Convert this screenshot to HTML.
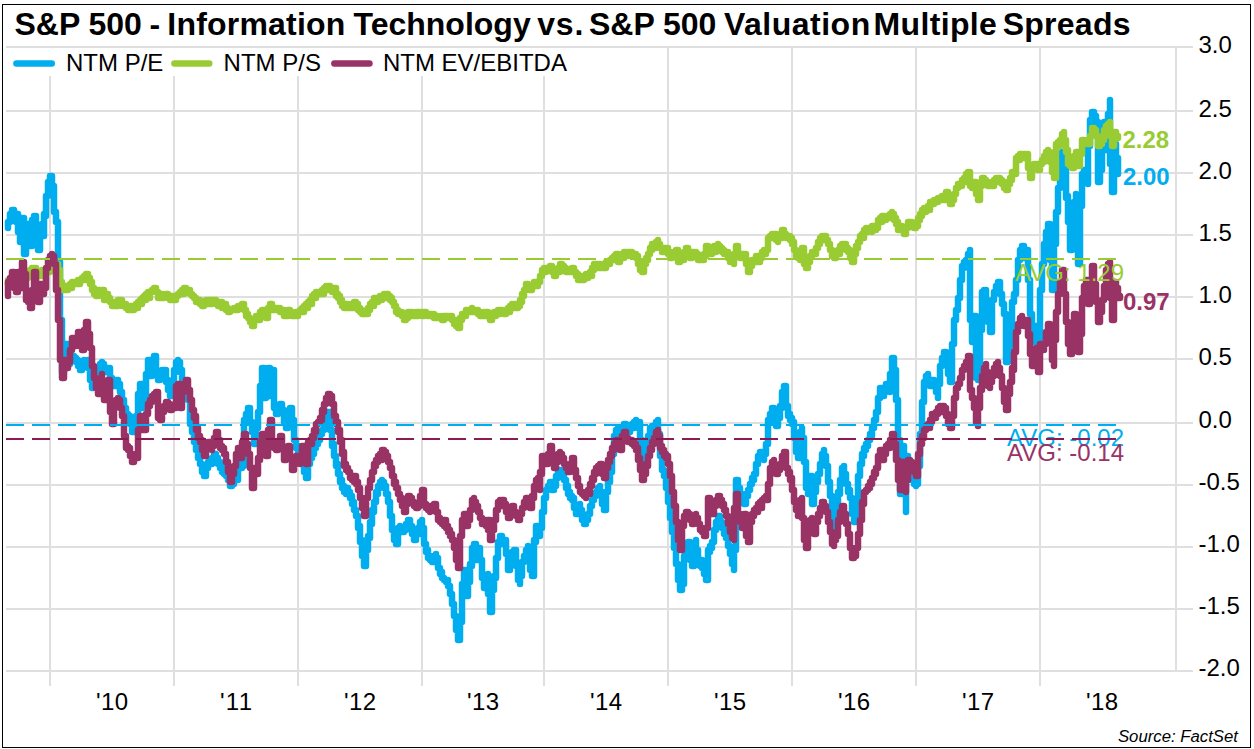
<!DOCTYPE html>
<html><head><meta charset="utf-8"><title>S&amp;P 500 - Information Technology vs. S&amp;P 500 Valuation Multiple Spreads</title>
<style>html,body{margin:0;padding:0;background:#fff}svg{display:block}text{font-family:"Liberation Sans",sans-serif;font-size:24px;fill:#000}.t{font-size:32px;font-weight:bold}.b{font-weight:bold}.src{font-size:16.75px;font-style:italic}</style></head><body>
<svg width="1254" height="749" viewBox="0 0 1254 749">
<rect x="0" y="0" width="1254" height="749" fill="#fff"/>
<g fill="#DFDFDF" shape-rendering="crispEdges">
<rect x="6" y="46" width="1187" height="2"/>
<rect x="6" y="110" width="1187" height="2"/>
<rect x="6" y="172" width="1187" height="2"/>
<rect x="6" y="234" width="1187" height="2"/>
<rect x="6" y="296" width="1187" height="2"/>
<rect x="6" y="358" width="1187" height="2"/>
<rect x="6" y="422" width="1187" height="2"/>
<rect x="6" y="484" width="1187" height="2"/>
<rect x="6" y="546" width="1187" height="2"/>
<rect x="6" y="608" width="1187" height="2"/>
<rect x="6" y="670" width="1187" height="2"/>
<rect x="49" y="46" width="2" height="640"/>
<rect x="173" y="46" width="2" height="640"/>
<rect x="297" y="46" width="2" height="640"/>
<rect x="421" y="46" width="2" height="640"/>
<rect x="543" y="46" width="2" height="640"/>
<rect x="667" y="46" width="2" height="640"/>
<rect x="791" y="46" width="2" height="640"/>
<rect x="915" y="46" width="2" height="640"/>
<rect x="1039" y="46" width="2" height="640"/>
<rect x="1175" y="48" width="2" height="624"/>
</g>
<g fill="none" stroke-width="6.5" stroke-linejoin="round" stroke-linecap="round">
<path stroke="#00AEEF" d="M8,228V222H10V214H12V210H14V212V220H16V222V214H18V232H20V222V242H22V222V218H24V254H26V246V226H28V224V232H30V246H32V220H34V216H36V218V236H38V234V250H40V244V226H42V224V232H44V236V214H46V216V196H48V182H50V184V176H52V178V186H54V212H56V222H58V264H60V262V320H62V372H64V366V350H66V344H68V350V362H70V364V356H72V358H74V356V360H76V358V362H78V360V366H80V364V370H82V368V362H84V360V364H86V362V366H88V368V360H90V362V380H92V388H94V382H96V378V386H98V378V372H100V364H102V362V366H104V364V370H106V368V372H108V368H110V370V378H112V384H114V382V386H116V380H118V384H120V392H122V400H124V408H126V414H128V418H130V416V424H132V422V432H134V430H136V432V416H138V418V394H140V384H142V392V408H144V396H146V374H148V376V360H150V366V376H152V366H154V356H156V372H158V380H160V378V372H162V370V374H164V376V370H166V374V382H168V380V390H170V396H172V390V384H174V370H176V372V362H178V360V364H180V362V372H182V370V384H184V392H186V390V398H188V396V400H190V424H192V432H194V442H196V440V450H198V458H200V456V464H202V472H204V476H206V474V468H208V462H210V460V464H212V460V458H214V460V454H216V460H218V458V464H220V462V468H222V466V472H224V470V474H226V476V470H228V474V480H230V478V486H232V482H234V484V476H236V472V480H238V474V466H240V464V468H242V466V464H244V466V420H246V414H248V408H250V412V422H252V432H254V444H256V428H258V412H260V386H262V368H264V378V398H266V378H268V382V368H270V370V396H272V394V370H274V394V408H276V414H278V408H280V410V404H282V412H284V410V422H286V420V428H288V422V414H290V416V408H292V414V420H294V440H296V448H298V446V454H300V452V458H302V456V464H304V472H306V470V478H308V472V464H310V456H312V458V452H314V454V448H316V442H318V444V438H320V440V434H322V430H324V424H326V426V418H328V420V412H330V430H332V446H334V444V456H336V466H338V464V474H340V482H342V480V488H344V486V492H346V494V488H348V492V494H350V492V498H352V496V504H354V502V510H356V516H358V528H360V526V542H362V540V556H364V554V566H366V562V550H368V536H370V538V522H372V524V510H374V512V502H376V492H378V494V486H380V488V482H382V480V484H384V482V488H386V486V494H388V502H390V516H392V530H394V540H396V538V544H398V538V528H400V526V530H402V528V532H404V528H406V530V524H408V526V520H410V528H412V526V534H414V540H416V536V530H418V528V534H420V528V522H422V520V528H424V544H426V552H428V550V558H430V556V560H432V558V562H434V560V556H436V554V560H438V558V568H440V574H442V572V578H444V580H446V582H448V580V586H450V594H452V604H454V616H456V630H458V640H460V634V622H462V584H464V570H466V578V596H468V582H470V564H472V566V548H474V550V544H476V550V560H478V552H480V548V560H482V578H484V588H486V578H488V574V594H490V592V612H492V604V590H494V576H496V578V558H498V542H500V536H502V540V544H504V542H506V540V554H508V570H510V564V556H512V558V552H514V550V554H516V550V566H518V564V580H520V584V574H522V576V562H524V556H526V550H528V546V554H530V570H532V564V576H534V564V540H536V542V526H538V528V534H540V536V528H542V512H544V498H546V490H548V486H550V482H552V484V490H554V484H556V486V476H558V478V470H560V472H562V470V476H564V474V480H566V488H568V486V494H570V492V498H572V496V500H574V498V508H576V506V514H578V512V506H580V504V512H582V510V520H584V518V524H586V518H588V520V514H590V506H592V500H594V496H596V492H598V494V488H600V486V494H602V492V504H604V502V510H606V502V492H608V480H610V482V470H612V472V452H614V454V436H616V438V430H618V428V436H620V434H622V428H624V424H626V426V430H628V428V432H630V430V426H632V424V428H634V424V422H636V420V426H638V428V422H640V428V440H642V460H644V452H646V454V444H648V446V436H650V428H652V426V430H654V426H656V428V422H658V420V436H660V434V456H662V470H664V476H666V488H668V502H670V518H672V532H674V548H676V564H678V580H680V590H682V588V582H684V584V556H686V548H688V550V542H690V550V560H692V558V566H694V558V544H696V540V550H698V564H700V566V560H702V562V568H704V566V574H706V570V580H708V570V550H710V552V546H712V548V542H714V530H716V522H718V524V516H720V522H722V528H724V534H726V532V538H728V546H730V554H732V564H734V570V550H736V480H738V482V490H740V488V496H742V494V500H744V498V504H746V500V494H748V496V490H750V484H752V478H754V480V474H756V464H758V456H760V458V452H762V454V458H764V460V454H766V444H768V420H770V422V414H772V408H774V418H776V426H778V418H780V406H782V408V392H784V394V386H786V392V406H788V416H790V414V420H792V418V424H794V422V438H796V452H798V450V458H800V450V432H802V428V438H804V462H806V488H808V484V494H810V486V476H812V484V504H814V492H816V482H818V474H820V464H822V454H824V450V458H826V456V466H828V482H830V496H832V510H834V528H836V508H838V510V492H840V494V480H842V468H844V466V474H846V484H848V492H850V490V498H852V514H854V522H856V516V506H858V476H860V464H862V454H864V456V448H866V450V444H868V446V440H870V434H872V436V428H874V420H876V412H878V398H880V388H882V394H884V396V390H886V392V384H888V390H890V392V374H892V358H894V360V370H896V400H898V440H900V494H902V450V446H904V450V488H906V512V456H908V464H910V474H912V480H914V484H916V486V480H918V484V466H920V434H922V436V402H924V382H926V376H928V374V380H930V386H932V380H934V382V384H936V382V392H938V398V382H940V384V366H942V358H944V352H946V356V362H948V374H950V368V382H952V368V344H954V320H956V310H958V298H960V280H962V266H964V268V262H966V260V266H968V262V254H970V250V320H972V342H974V334V316H976V378H978V380V362H980V364V330H982V292H984V290V294H986V290V306H988V322H990V332H992V300H994V292H996V286H998V282H1000V286V294H1002V304H1004V314H1006V362H1008V346H1010V348V328H1012V302H1014V294H1016V280H1018V260H1020V250H1022V252V246H1024V250V258H1026V256V250H1028V252V280H1030V314H1032V332H1034V342H1036V338V326H1038V342H1040V290H1042V264H1044V244H1046V232H1048V224H1050V260H1052V290H1054V280V242H1056V244V212H1058V188H1060V164H1062V166V152H1064V172H1066V170V198H1068V196V222H1070V220V250H1072V230H1074V202H1076V194V230H1078V264H1080V248V204H1082V206V174H1084V176V170H1086V180H1088V184V144H1090V146V120H1092V112H1094V118H1096V116V124H1098V122V182H1100V170H1102V138H1104V122H1106V136V150H1108V146V114H1110V100V164H1112V192H1114V164V144H1116V148V158H1118V174"/>
<path stroke="#99CC33" d="M8,284V280H10V284H12V282H14V280V284H16V282V280H18V284H20V280H22V278V284H24V280V276H26V274V278H28V276V274H30V276V270H32V268V274H34V272V268H36V274H38V272H40V276H42V274V270H44V272H46V270H48V272H50V268H52V266H54V268H56V264H58V266V270H60V284H62V282V290H64V286H66V290H68V288V286H70V284V288H72V286V282H74V284H76V282H78V280V284H80V282V280H82V278H84V276V280H86V278V274H88V278H90V284H92V282V290H94V288V294H96V292V296H98V290H100V294H102V296V290H104V294V300H106V298V294H108V298H110V302H112V306H114V302H116V306H118V302V300H120V302H122V300V306H124V304H126V308H128V306V310H130V306H132V308V310H134V306H136V304V308H138V306V302H140V300V304H142V302V298H144V296V300H146V298V294H148V292V298H150V294V292H152V290H154V288H156V292H158V298H160V294H162V298H164V296H166V294H168V296V298H170V300H172V296H174V300H176V298V296H178V294H180V292H182V290V294H184V292V288H186V290V292H188V290H190V294H192V296H194V298H196V302H198V300H200V304H202V302V306H204V302H206V300V304H208V300H210V302V304H212V300H214V302H216V300V304H218V302V306H220V302H222V308H224V304H226V306V310H228V308V312H230V310H232H234V308H236V310H238V306H240V308H242V304H244V310H246V316H248V314V318H250V322H252V326H254V320H256V316H258V320H260V316V312H262V310H264V316H266V314V318H268V314V308H270V310V304H272V306V310H274H276V308H278V310H280V308V312H282V310H284V312V316H286V314H288V316V310H290V312V314H292V312V316H294V314H296V312V316H298V312H300V310H302V308V312H304V310V306H306V304V308H308V306V302H310V300V304H312V300V296H314V294V298H316V296V292H318V294H320V292H322V290V294H324V292V288H326V286V290H328V288V286H330V290H332V288V292H334V288H336V292V296H338V294V298H340V296V302H342V300V306H344V304V308H346V306V304H348V308H350V306H352V304V308H354V306V302H356V306H358V304V310H360V308V312H362V310V314H364V312H366V314H368V312V308H370V310V304H372V302V306H374V304V298H376V302H378V298H380V296V300H382V296H384V294V298H386V294H388V296V298H390V296V300H392V298V302H394V306H396V312H398V310V314H400V312H402V316H404V320H406V316H408V318V312H410V314H412V312V316H414V314H416V312V316H418V312H420V314H422V312V316H424V314V312H426V314H428V316H430V314H432V316H434V314V318H436V316H438V318H440H442V316V320H444V318V316H446H448V318H450V316H452V318V320H454V324H456V326V320H458V322V328H460V324V318H462V320V314H464V316H466V310H468V312H470V310H472V308V312H474V310H476V312H478V310V314H480V312V316H482V314H484V312V316H486V314V312H488V316H490V320H492V318V314H494V312V316H496V314V312H498V310V314H500V312V310H502V312H504V314H506V310H508V308V312H510V308V306H512V304V308H514V304H516V306V308H518V304H520V306V300H522V302V294H524V296V290H526V284H528V286H530V290H532V286H534V282H536V286H538V284V282H540V276H542V270H544V268V272H546V268H548V270H550V266H552V272H554V270V276H556V274V270H558V268V272H560V270V264H562V268H564V266V270H566V268V272H568V270H570V272H572V270V268H574V272H576V276H578V274V280H580V276H582V278V280H584V278V276H586V274V278H588V274H590V272V276H592V274V268H594V270V264H596V266V268H598V264H600V268H602V266H604V264V268H606V266V262H608V264H610V262V260H612V258H614V256V260H616V258V254H618V256V262H620V260V256H622V254V258H624V254V252H626V256H628V254V252H630V254H632V252V256H634V254H636V258H638V256V264H640V270H642V268V272H644V270V262H646V264V258H648V260V254H650V248H652V250V244H654V248H656V246V242H658V240V244H660V248H662V252H664V248H666V250H668V248V254H670V252V258H672V256V254H674V252V256H676V250H678V256V262H680V258H682V256V260H684V258V252H686V254V248H688V254H690V252V258H692V256V252H694V254H696V252V256H698V254V260H700V258H702V260H704V254H706V256V246H708V250H710V248V254H712V248H714V246V252H716V248V246H718V244V248H720V246V250H722V248V252H724V250V254H726V252H728V254V258H730V256V262H732V260H734V264V254H736V256V246H738V250V256H740V254V258H742V256V254H744V258H746V254V264H748V272H750V270V264H752V266V260H754V262H756V260V256H758V262H760V256H762V258V252H764V250V254H766V252V250H768V238H770V236H772V234V238H774V234H776V236V240H778V242V236H780V234V238H782V236V230H784V234H786V238H788V236H790V238V240H792V238V244H794V242V250H796V256H798V254V258H800V260V254H802V256V248H804V254V264H806V268H808V264V260H810V262V256H812V252H814V254H816V252V248H818V242H820V244V238H822V236V240H824V238V236H826V240H828V244H830V250H832V256H834V254V258H836V252H838V250V254H840V250V246H842V244V248H844V244H846V246V250H848V248V252H850V250V258H852V262H854V258V254H856V246H858V248V242H860V236H862V234V238H864V236V230H866V228V232H868V228H870V230H872V232V226H874V228V230H876V228V226H878V228V220H880V218V222H882V218V216H884V220H886V216H888V218H890V214H892V212V216H894V214V220H896V218V224H898V222V230H900V226H902V230H904V228V234H906V228H908V222H910V224H912V222V226H914V224V228H916V224H918V226V218H920V220V214H922V216V210H924V208V212H926V208H928V206V210H930V206V202H932V204H934V200H936V202H938V200V198H940V200H942V196H944V200H946V198V192H948V194V200H950V198V204H952V202V198H954V200V194H956V188H958V184H960V186H962V184V180H964V178V182H966V178V174H968V172V176H970V172V186H972V184V188H974V186V182H976V184V194H978V200H980V194V184H982V186V178H984V182H986V180V184H988V182V186H990V184H992V182V186H994V184V180H996V178V182H998V178H1000V182H1002V180V184H1004V182V188H1006V186V190H1008V188V182H1010V184V178H1012V180V172H1014V174H1016V158H1018V156V160H1020V158V154H1022V158H1024V154H1026V158H1028V154V168H1030V178H1032V174V166H1034V164V168H1036V164H1038V166V170H1040V164H1042V160H1044V162V156H1046V158V152H1048V150V154H1050V152V162H1052V172H1054V166V178H1056V166V144H1058V142V146H1060V144V140H1062V134H1064V132V140H1066V152H1068V150V164H1070V162V166H1072V164V168H1074V164V156H1076V158V152H1078V156V166H1080V152H1082V154V140H1084V144H1086V142H1088V140V144H1090V140V136H1092V128H1094V130H1096V136H1098V146H1100V142H1102V144V138H1104V140V130H1106V132V126H1108V124V128H1110V122V136H1112V146H1114V142V132H1116V136H1118V138"/>
<path stroke="#993366" d="M8,296V282H10V284V278H12V280V272H14V278V288H16V286V292H18V288V272H20V278V288H22V286V262H24V264V274H26V300H28V298V302H30V300V308H32V304V290H34V272H36V274V284H38V302H40V296V284H42V286V292H44V294V288H46V268H48V260H50V256H52V254V258H54V256V264H56V290H58V320H60V360H62V378H64V374V360H66V366H68V368V362H70V350H72V338H74V344H76V346V338H78V332H80V336V346H82V342V350H84V344V330H86V332V322H88V324V334H90V348H92V366H94V378H96V388H98V386V394H100V380H102V374V388H104V386V400H106V396V386H108V390V380H110V390V412H112V424H114V418V404H116V406V400H118V398V404H120V400V408H122V416H124V436H126V448H128V446V450H130V448V456H132V454V462H134V460V456H136V454V458H138V454V430H140V416H142V430H144H146V414H148V404H150V406V400H152V402V396H154V394V400H156V392H158V400V418H160V416V420H162V416V412H164V406H166V402H168V406H170V404V410H172V406H174V408H176V386H178V384H180V408H182V390H184V384H186V386V380H188V384V392H190V390V400H192V410H194V418H196V416V430H198V428V438H200V436V442H202V440V450H204V456H206V452V446H208V442H210V448H212V450V444H214V446V438H216V440V432H218V442H220V440V448H222V446V450H224V448V454H226V462H228V472H230V482H232V474H234V466H236V454H238V448H240V450V458H242V456V442H244V444V434H246V436V444H248V454H250V468H252V488H254V484V468H256V472H258V474V458H260V460V442H262V434H264V436V450H266V448V456H268V448V430H270V420H272V428V446H274V448H276V446V450H278V442H280V444V436H282V448H284V460H286V452H288V454V446H290V458H292V470H294V462H296V464V456H298V462H300V464V458H302V446H304V458H306V456V464H308V456V442H310V440V444H312V440V436H314V438V430H316V432V424H318V422H320V418H322V420V410H324V412V404H326V398H328V400V394H330V396V398H332V396V404H334V416H336V424H338V422V432H340V430V442H342V440V454H344V452V466H346V464V470H348V468V472H350V478H352V476V480H354V482V476H356V478V484H358V482V490H360V488V498H362V508H364V516H366V508V498H368V488H370V480H372V472H374V464H376V466V460H378V462V456H380V454V460H382V456V450H384V452H386V458H388V456V462H390V468H392V476H394V484H396V482V488H398V494H400V500H402V498V506H404V512H406V502H408V504V496H410V500H412V498V502H414V506H416V508H418V504H420V506V496H422V490H424V494V504H426V508H428V506V510H430V512V506H432V510H434V506V504H436V512H438V520H440V518V522H442V520V524H444V526V520H446V522V528H448V526V532H450V530V536H452V534V540H454V548H456V560H458V556V568H460V558V536H462V520H464V514H466V518V526H468V518H470V520V510H472V500H474V498V504H476V502V508H478V506V512H480V518H482V524H484V522H486V520V526H488V530V520H490V530V540H492V536V528H494V530V520H496V510H498V502H500V500V504H502V506V500H504V502V506H506V504V512H508V518H510V516V510H512V506H514V508V514H516V512V516H518V514V520H520V514H522V508H524V502H526V504V498H528V504H530V502V508H532V496H534V498V486H536V488V480H538V478V486H540V490V472H542V474V456H544V458V462H546V460V464H548V460V454H550V446H552V458H554V468H556V462H558V454H560V452V456H562V454V460H564V458V464H566V468H568V472H570V464H572V466V458H574V472H576V470V478H578V486H580V492H582V494H584V496H586V498V492H588V490V494H590V490V484H592V486V478H594V480V472H596V474V468H598V466V470H600V464H602V468V474H604V472V478H606V474V466H608V468V460H610V462V454H612V456V448H614V450V444H616V446V440H618V442V446H620V444V450H622V444V436H624V432H626V434V438H628V442H630V440H632V444H634V442V446H636V444V450H638V448V460H640V458V470H642V480H644V478V472H646V474V464H648V466V456H650V448H652V450V442H654V444V438H656V432H658V430V436H660V448H662V446V452H664V450V456H666V454V458H668V456V464H670V476H672V492H674V506H676V522H678V540H680V550H682V542V526H684V516H686V518V512H688V516H690V514V520H692V518V524H694V516H696V514V518H698V524H700V530H702V528V532H704V530V536H706V528H708V498H710V500V510H712V508V514H714V512V504H716V506V500H718V496H720V500H722V506H724V504V510H726V516H728V524H730V532H732V530V538H734V540V508H736V494H738V502V514H740V522H742V528H744V522V514H746V536H748V534V542H750V534V522H752V514H754V516V510H756V508V512H758V510V504H760V502V508H762V504V500H764V498H766V496V500H768V498V484H770V468H772V462H774V460V466H776V474H778V468H780V470V464H782V466V456H784V458V452H786V458V468H788V474H790V472V480H792V478V490H794V502H796V510H798V516H800V514V500H802V498V518H804V540H806V538V548H808V542V530H810V520H812V518V528H814V534H816V530V522H818V514H820V516V508H822V510V502H824V508H826V506V512H828V522H830V532H832V544H834V546V540H836V536H838V520H840V522V512H842V506H844V516H846V514V524H848V534H850V548H852V558H854V554H856V556V548H858V534H860V520H862V502H864V504V492H866V490H868V486H870V488V482H872V484V478H874V472H876V474V468H878V456H880V450H882V454V460H884V452H886V454V446H888V444V448H890V446V440H892V442V434H894V444H896V460H898V480H900V476V490H902V476V462H904V470V488H906V492V478H908V480V460H910V462H912V468H914V466V472H916V468V476H918V468V454H920V444H922V436H924V438V430H926V426H928V424V428H930V424V420H932V422V414H934V418H936V414V412H938V414V408H940V406V412H942V410V406H944V410H946V408V416H948V414V424H950V422V428H952V424V416H954V398H956V388H958V384H960V378H962V370H964V366H966V368V362H968V364V356H970V390H972V398H974V408H976V422H978V426V408H980V388H982V390V376H984V368H986V364V372H988V386H990V388V380H992V382V376H994V368H996V370V364H998V362V368H1000V376H1002V388H1004V402H1006V410H1008V406V394H1010V382H1012V368H1014V370V352H1016V332H1018V324H1020V326V318H1022V316V324H1024V326H1026V324V320H1028V336H1030V334V354H1032V366H1034V362V352H1036V348V360H1038V372H1040V364V344H1042V348H1044V350V344H1046V332H1048V324H1050V330V342H1052V360H1054V366V338H1056V340V312H1058V294H1060V282H1062V270H1064V294H1066V322H1068V344H1070V342V354H1072V330H1074V314H1076V320V342H1078V340V352H1080V346V334H1082V298H1084V286H1086V288V280H1088V288V304H1090V284H1092V286V266H1094V284H1096V302H1098V322H1100V310H1102V312V300H1104V286H1106V270H1108V264H1110V262V298H1112V320H1114V298V282H1116V290H1118V288V298H1120V296"/>
</g>
<rect x="6" y="48" width="569" height="28" fill="#fff" fill-opacity="0.95"/>
<g fill="none" stroke-width="6.6" stroke-linecap="round">
<path stroke="#00AEEF" d="M16.5,63.5 H51.7"/>
<path stroke="#99CC33" d="M174.5,63.5 H209.2"/>
<path stroke="#993366" d="M334.4,63.5 H369.4"/>
</g>
<text x="66" y="70.5">NTM P/E</text>
<text x="223.6" y="70.5">NTM P/S</text>
<text x="382.9" y="70.5">NTM EV/EBITDA</text>
<text class="t" x="14.5" y="35">S&amp;P</text>
<text class="t" x="88.5" y="35">500</text>
<text class="t" x="149.5" y="35">-</text>
<text class="t" x="167.3" y="35" textLength="178" lengthAdjust="spacing">Information</text>
<text class="t" x="353.5" y="35">Technology</text>
<text class="t" x="537.3" y="35" textLength="46" lengthAdjust="spacing">vs.</text>
<text class="t" x="589" y="35">S&amp;P</text>
<text class="t" x="663" y="35">500</text>
<text class="t" x="724" y="35" textLength="146.2" lengthAdjust="spacing">Valuation</text>
<text class="t" x="873.5" y="35" textLength="123.4" lengthAdjust="spacing">Multiple</text>
<text class="t" x="1002.7" y="35" textLength="127.8" lengthAdjust="spacing">Spreads</text>
<text x="1198.5" y="53">3.0</text>
<text x="1198.5" y="117">2.5</text>
<text x="1198.5" y="179">2.0</text>
<text x="1198.5" y="241">1.5</text>
<text x="1198.5" y="303">1.0</text>
<text x="1198.5" y="365">0.5</text>
<text x="1198.5" y="428">0.0</text>
<text x="1198.5" y="490">-0.5</text>
<text x="1198.5" y="552">-1.0</text>
<text x="1198.5" y="614">-1.5</text>
<text x="1198.5" y="676">-2.0</text>
<text x="112.0" y="710" text-anchor="middle" textLength="32.2" lengthAdjust="spacing">'10</text>
<text x="236.0" y="710" text-anchor="middle" textLength="32.2" lengthAdjust="spacing">'11</text>
<text x="360.0" y="710" text-anchor="middle" textLength="32.2" lengthAdjust="spacing">'12</text>
<text x="483.0" y="710" text-anchor="middle" textLength="32.2" lengthAdjust="spacing">'13</text>
<text x="606.0" y="710" text-anchor="middle" textLength="32.2" lengthAdjust="spacing">'14</text>
<text x="730.0" y="710" text-anchor="middle" textLength="32.2" lengthAdjust="spacing">'15</text>
<text x="854.0" y="710" text-anchor="middle" textLength="32.2" lengthAdjust="spacing">'16</text>
<text x="978.0" y="710" text-anchor="middle" textLength="32.2" lengthAdjust="spacing">'17</text>
<text x="1102.0" y="710" text-anchor="middle" textLength="32.2" lengthAdjust="spacing">'18</text>
<text x="1124" y="280.5" text-anchor="end" style="fill:#99CC33">AVG: 1.29</text>
<text x="1124" y="445.5" text-anchor="end" style="fill:#00AEEF">AVG: -0.02</text>
<text x="1124" y="460.5" text-anchor="end" style="fill:#993366">AVG: -0.14</text>
<g fill="none" stroke-width="2" stroke-dasharray="18 8" shape-rendering="crispEdges">
<path stroke="#99CC33" d="M6,259 H1116"/>
<path stroke="#00AEEF" d="M6,425 H1116"/>
<path stroke="#8B1A55" d="M6,439 H1116"/>
</g>
<text class="b" x="1122.5" y="147.5" style="fill:#99CC33">2.28</text>
<text class="b" x="1123" y="184.5" style="fill:#00AEEF">2.00</text>
<text class="b" x="1123" y="309.5" style="fill:#993366">0.97</text>
<text class="src" x="1238" y="741.8" text-anchor="end">Source: FactSet</text>
<rect x="2.5" y="4.5" width="1248" height="743" fill="none" stroke="#000" stroke-width="1" shape-rendering="crispEdges"/>
</svg></body></html>
